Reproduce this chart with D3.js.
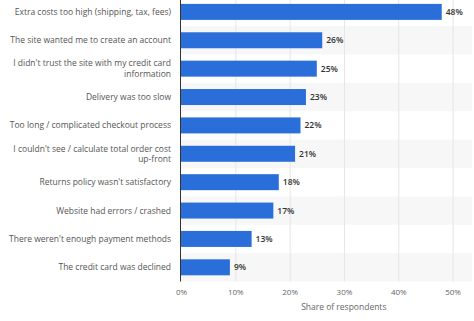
<!DOCTYPE html>
<html><head><meta charset="utf-8">
<script src="https://cdn.jsdelivr.net/npm/d3@7"></script>
<style>body{margin:0;background:#fff}svg{display:block}</style>
</head><body>
<script>
const categories = [
  "Extra costs too high (shipping, tax, fees)",
  "The site wanted me to create an account",
  "I didn't trust the site with my credit card information",
  "Delivery was too slow",
  "Too long / complicated checkout process",
  "I couldn't see / calculate total order cost up-front",
  "Returns policy wasn't satisfactory",
  "Website had errors / crashed",
  "There weren't enough payment methods",
  "The credit card was declined"
];
const labelLines = [
  ["Extra costs too high (shipping, tax, fees)"],
  ["The site wanted me to create an account"],
  ["I didn't trust the site with my credit card", "information"],
  ["Delivery was too slow"],
  ["Too long / complicated checkout process"],
  ["I couldn't see / calculate total order cost", "up-front"],
  ["Returns policy wasn't satisfactory"],
  ["Website had errors / crashed"],
  ["There weren't enough payment methods"],
  ["The credit card was declined"]
];
const values = [48, 26, 25, 23, 22, 21, 18, 17, 13, 9];
const xTicks = [0, 10, 20, 30, 40, 50];
const axisTitle = "Share of respondents";

const W = 474, H = 321;
const mLeft = 181, plotRight = 472, mTop = -2.3, mBottom = 281.5;
const font = "'Open Sans', sans-serif";

const svg = d3.select("body").append("svg").attr("width", W).attr("height", H);

const x = d3.scaleLinear().domain([0, 50]).range([mLeft, mLeft + 271.6]);
const y = d3.scaleBand().domain(categories).range([mTop, mBottom]).paddingInner(0).paddingOuter(0);
const barH = 16;

svg.append("g").selectAll("rect").data(categories.filter((d, i) => i % 2 === 1))
  .join("rect")
  .attr("x", mLeft).attr("width", plotRight - mLeft)
  .attr("y", d => y(d)).attr("height", y.bandwidth())
  .attr("fill", "#f7f7f7");

svg.append("g").selectAll("line").data(xTicks.filter(t => t > 0))
  .join("line")
  .attr("x1", d => x(d) + 0.5).attr("x2", d => x(d) + 0.5)
  .attr("y1", 0).attr("y2", mBottom)
  .attr("stroke", "#e6e6e6").attr("stroke-width", 1);

svg.append("g").selectAll("rect").data(values)
  .join("rect")
  .attr("x", x(0))
  .attr("y", (d, i) => y(categories[i]) + y.bandwidth() / 2 - barH / 2)
  .attr("width", d => x(d) - x(0))
  .attr("height", barH)
  .attr("fill", "#2a6fd9");

svg.append("g").selectAll("text").data(values)
  .join("text")
  .attr("x", d => x(d) + 4)
  .attr("y", (d, i) => y(categories[i]) + y.bandwidth() / 2)
  .attr("dy", "0.35em")
  .attr("font-family", font).attr("font-size", 8.5).attr("font-weight", 600)
  .attr("fill", "#333")
  .text(d => d + "%");

svg.append("line")
  .attr("x1", mLeft - 0.5).attr("x2", mLeft - 0.5)
  .attr("y1", 0).attr("y2", mBottom)
  .attr("stroke", "#333").attr("stroke-width", 1);

const lab = svg.append("g").selectAll("text").data(categories)
  .join("text")
  .attr("text-anchor", "end")
  .attr("font-family", font).attr("font-size", 8.5)
  .attr("fill", "#555");
lab.each(function(d, i) {
  const lines = labelLines[i];
  const cy = y(d) + y.bandwidth() / 2;
  const lh = 10.5;
  const t = d3.select(this);
  lines.forEach((ln, j) => {
    t.append("tspan")
      .attr("x", 171)
      .attr("y", cy + (j - (lines.length - 1) / 2) * lh)
      .attr("dy", "0.35em")
      .text(ln);
  });
});

const xAxis = d3.axisBottom(x).tickValues(xTicks).tickFormat(d => d + "%").tickSize(0).tickPadding(0);
const gx = svg.append("g").attr("transform", `translate(0,${mBottom + 8})`).call(xAxis);
gx.select(".domain").remove();
gx.selectAll("text").attr("font-family", font).attr("font-size", 8).attr("fill", "#666");

svg.append("text")
  .attr("x", (x(0) + x(50)) / 2 + 27).attr("y", 310)
  .attr("text-anchor", "middle")
  .attr("font-family", font).attr("font-size", 8.5).attr("fill", "#666")
  .text(axisTitle);
</script>
</body></html>
